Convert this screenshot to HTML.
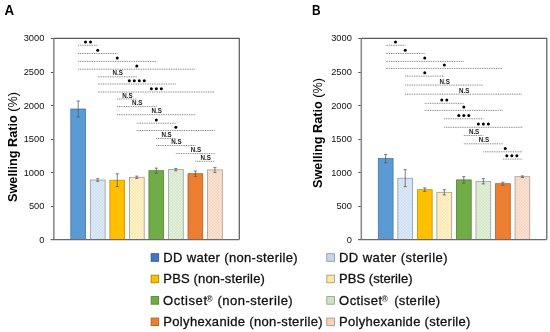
<!DOCTYPE html>
<html><head><meta charset="utf-8"><style>
html,body{margin:0;padding:0;background:#fff;}
body{width:550px;height:332px;overflow:hidden;}
svg{display:block;font-family:"Liberation Sans",sans-serif;will-change:transform;}
.pl{font-size:14.6px;font-weight:bold;fill:#000;}
.yt{font-size:12.7px;font-weight:bold;fill:#000;}
.tk{font-size:9.3px;fill:#111;}
.ax{stroke:#555;stroke-width:1;}
.lax{stroke:#8c8c8c;stroke-width:1.6;}
.bax{stroke:#6a6a6a;stroke-width:1.2;}
.box{fill:none;stroke:#5a5a5a;stroke-width:1.2;}
.eb{fill:none;stroke:#555;stroke-width:0.75;}
.sg{stroke:#6a6a6a;stroke-width:0.9;stroke-dasharray:0.9 0.85;}
.ns{font-size:7.1px;font-weight:bold;fill:#1a1a1a;}
.lg{font-size:13px;fill:#111;stroke:#111;stroke-width:0.3px;}
.reg{font-size:8.6px;font-weight:bold;fill:#333;}
</style></head><body>
<svg width="550" height="332" viewBox="0 0 550 332">
<defs>
<pattern id="hb" width="3" height="3" patternUnits="userSpaceOnUse"><rect width="3" height="3" fill="#DCE9F6"/><path d="M0 0L3 3M3 0L0 3" stroke="#C6D9EF" stroke-width="0.5"/></pattern>
<pattern id="hy" width="3" height="3" patternUnits="userSpaceOnUse"><rect width="3" height="3" fill="#FFF1C8"/><path d="M0 0L3 3M3 0L0 3" stroke="#FAE3A8" stroke-width="0.5"/></pattern>
<pattern id="hg" width="3" height="3" patternUnits="userSpaceOnUse"><rect width="3" height="3" fill="#E2EFDA"/><path d="M0 0L3 3M3 0L0 3" stroke="#CDE2BF" stroke-width="0.5"/></pattern>
<pattern id="ho" width="3" height="3" patternUnits="userSpaceOnUse"><rect width="3" height="3" fill="#FCE2D2"/><path d="M0 0L3 3M3 0L0 3" stroke="#F7CEB4" stroke-width="0.5"/></pattern>
</defs>
<text x="4.4" y="15.1" class="pl" textLength="9.6" lengthAdjust="spacingAndGlyphs">A</text>
<text x="0" y="0" class="yt" transform="translate(17.4,147.0) rotate(-90)" text-anchor="middle">Swelling Ratio <tspan font-weight="normal">(%)</tspan></text>
<text x="44.4" y="242.6" class="tk" text-anchor="end">0</text>
<line x1="50.8" y1="239.5" x2="54.0" y2="239.5" class="ax"/>
<text x="44.4" y="209.1" class="tk" text-anchor="end">500</text>
<line x1="50.8" y1="206.5" x2="54.0" y2="206.5" class="ax"/>
<text x="44.4" y="175.5" class="tk" text-anchor="end">1000</text>
<line x1="50.8" y1="172.5" x2="54.0" y2="172.5" class="ax"/>
<text x="44.4" y="142.0" class="tk" text-anchor="end">1500</text>
<line x1="50.8" y1="139.5" x2="54.0" y2="139.5" class="ax"/>
<text x="44.4" y="108.5" class="tk" text-anchor="end">2000</text>
<line x1="50.8" y1="105.5" x2="54.0" y2="105.5" class="ax"/>
<text x="44.4" y="74.9" class="tk" text-anchor="end">2500</text>
<line x1="50.8" y1="72.5" x2="54.0" y2="72.5" class="ax"/>
<text x="44.4" y="41.4" class="tk" text-anchor="end">3000</text>
<line x1="50.8" y1="38.5" x2="54.0" y2="38.5" class="ax"/>
<rect x="70.80" y="109.00" width="14.80" height="130.60" fill="#5B9BD5" stroke="#41719C" stroke-width="0.75"/>
<rect x="90.33" y="180.00" width="14.80" height="59.60" fill="url(#hb)" stroke="#8E969E" stroke-width="0.75"/>
<rect x="109.86" y="180.20" width="14.80" height="59.40" fill="#FFC000" stroke="#BC8C00" stroke-width="0.75"/>
<rect x="129.39" y="177.30" width="14.80" height="62.30" fill="url(#hy)" stroke="#9A968C" stroke-width="0.75"/>
<rect x="148.92" y="170.70" width="14.80" height="68.90" fill="#70AD47" stroke="#507E32" stroke-width="0.75"/>
<rect x="168.45" y="169.60" width="14.80" height="70.00" fill="url(#hg)" stroke="#959A92" stroke-width="0.75"/>
<rect x="187.98" y="173.70" width="14.80" height="65.90" fill="#ED7D31" stroke="#AE5A21" stroke-width="0.75"/>
<rect x="207.51" y="169.90" width="14.80" height="69.70" fill="url(#ho)" stroke="#A09890" stroke-width="0.75"/>
<path d="M78.20 101.00V117.00M76.60 101.00H79.80M76.60 117.00H79.80" class="eb"/>
<path d="M97.73 178.70V181.30M96.13 178.70H99.33M96.13 181.30H99.33" class="eb"/>
<path d="M117.26 173.80V186.60M115.66 173.80H118.86M115.66 186.60H118.86" class="eb"/>
<path d="M136.79 176.10V178.50M135.19 176.10H138.39M135.19 178.50H138.39" class="eb"/>
<path d="M156.32 168.10V173.30M154.72 168.10H157.92M154.72 173.30H157.92" class="eb"/>
<path d="M175.85 168.40V170.80M174.25 168.40H177.45M174.25 170.80H177.45" class="eb"/>
<path d="M195.38 171.00V176.40M193.78 171.00H196.98M193.78 176.40H196.98" class="eb"/>
<path d="M214.91 167.40V172.40M213.31 167.40H216.51M213.31 172.40H216.51" class="eb"/>
<path d="M54.0 38.4H239.3V239.6" class="box"/>
<line x1="53.8" y1="38.4" x2="53.8" y2="239.6" class="lax"/>
<line x1="50.8" y1="239.6" x2="239.3" y2="239.6" class="bax"/>
<line x1="78.20" y1="45.30" x2="97.73" y2="45.30" class="sg"/>
<circle cx="85.47" cy="42.00" r="1.5"/>
<circle cx="90.47" cy="42.00" r="1.5"/>
<line x1="78.20" y1="53.50" x2="117.26" y2="53.50" class="sg"/>
<circle cx="97.73" cy="50.20" r="1.5"/>
<line x1="78.20" y1="61.40" x2="156.32" y2="61.40" class="sg"/>
<circle cx="117.26" cy="58.10" r="1.5"/>
<line x1="78.20" y1="69.20" x2="195.38" y2="69.20" class="sg"/>
<circle cx="136.79" cy="65.90" r="1.5"/>
<line x1="97.73" y1="76.80" x2="136.79" y2="76.80" class="sg"/>
<text x="117.76" y="75.30" class="ns" text-anchor="middle" textLength="10.4" lengthAdjust="spacingAndGlyphs">N.S</text>
<line x1="97.73" y1="84.00" x2="175.85" y2="84.00" class="sg"/>
<circle cx="129.29" cy="80.70" r="1.5"/>
<circle cx="134.29" cy="80.70" r="1.5"/>
<circle cx="139.29" cy="80.70" r="1.5"/>
<circle cx="144.29" cy="80.70" r="1.5"/>
<line x1="97.73" y1="92.00" x2="214.91" y2="92.00" class="sg"/>
<circle cx="151.32" cy="88.70" r="1.5"/>
<circle cx="156.32" cy="88.70" r="1.5"/>
<circle cx="161.32" cy="88.70" r="1.5"/>
<line x1="117.26" y1="99.00" x2="136.79" y2="99.00" class="sg"/>
<text x="127.53" y="97.50" class="ns" text-anchor="middle" textLength="10.4" lengthAdjust="spacingAndGlyphs">N.S</text>
<line x1="117.26" y1="106.60" x2="156.32" y2="106.60" class="sg"/>
<text x="137.29" y="105.10" class="ns" text-anchor="middle" textLength="10.4" lengthAdjust="spacingAndGlyphs">N.S</text>
<line x1="117.26" y1="114.70" x2="195.38" y2="114.70" class="sg"/>
<text x="156.82" y="113.20" class="ns" text-anchor="middle" textLength="10.4" lengthAdjust="spacingAndGlyphs">N.S</text>
<line x1="136.79" y1="123.20" x2="175.85" y2="123.20" class="sg"/>
<circle cx="156.32" cy="119.90" r="1.5"/>
<line x1="136.79" y1="130.50" x2="214.91" y2="130.50" class="sg"/>
<circle cx="175.85" cy="127.20" r="1.5"/>
<line x1="156.32" y1="138.50" x2="175.85" y2="138.50" class="sg"/>
<text x="166.59" y="137.00" class="ns" text-anchor="middle" textLength="10.4" lengthAdjust="spacingAndGlyphs">N.S</text>
<line x1="156.32" y1="145.50" x2="195.38" y2="145.50" class="sg"/>
<text x="176.35" y="144.00" class="ns" text-anchor="middle" textLength="10.4" lengthAdjust="spacingAndGlyphs">N.S</text>
<line x1="175.85" y1="153.60" x2="214.91" y2="153.60" class="sg"/>
<text x="195.88" y="152.10" class="ns" text-anchor="middle" textLength="10.4" lengthAdjust="spacingAndGlyphs">N.S</text>
<line x1="195.38" y1="161.30" x2="214.91" y2="161.30" class="sg"/>
<text x="205.65" y="159.80" class="ns" text-anchor="middle" textLength="10.4" lengthAdjust="spacingAndGlyphs">N.S</text>
<text x="311.9" y="15.1" class="pl" textLength="8.6" lengthAdjust="spacingAndGlyphs">B</text>
<text x="0" y="0" class="yt" transform="translate(322.3,133.0) rotate(-90)" text-anchor="middle">Swelling Ratio <tspan font-weight="normal">(%)</tspan></text>
<text x="351.9" y="242.6" class="tk" text-anchor="end">0</text>
<line x1="358.3" y1="239.5" x2="361.5" y2="239.5" class="ax"/>
<text x="351.9" y="209.1" class="tk" text-anchor="end">500</text>
<line x1="358.3" y1="206.5" x2="361.5" y2="206.5" class="ax"/>
<text x="351.9" y="175.5" class="tk" text-anchor="end">1000</text>
<line x1="358.3" y1="172.5" x2="361.5" y2="172.5" class="ax"/>
<text x="351.9" y="142.0" class="tk" text-anchor="end">1500</text>
<line x1="358.3" y1="139.5" x2="361.5" y2="139.5" class="ax"/>
<text x="351.9" y="108.5" class="tk" text-anchor="end">2000</text>
<line x1="358.3" y1="105.5" x2="361.5" y2="105.5" class="ax"/>
<text x="351.9" y="74.9" class="tk" text-anchor="end">2500</text>
<line x1="358.3" y1="72.5" x2="361.5" y2="72.5" class="ax"/>
<text x="351.9" y="41.4" class="tk" text-anchor="end">3000</text>
<line x1="358.3" y1="38.5" x2="361.5" y2="38.5" class="ax"/>
<rect x="378.30" y="158.60" width="14.80" height="81.00" fill="#5B9BD5" stroke="#41719C" stroke-width="0.75"/>
<rect x="397.83" y="178.20" width="14.80" height="61.40" fill="url(#hb)" stroke="#8E969E" stroke-width="0.75"/>
<rect x="417.36" y="189.70" width="14.80" height="49.90" fill="#FFC000" stroke="#BC8C00" stroke-width="0.75"/>
<rect x="436.89" y="192.30" width="14.80" height="47.30" fill="url(#hy)" stroke="#9A968C" stroke-width="0.75"/>
<rect x="456.42" y="179.90" width="14.80" height="59.70" fill="#70AD47" stroke="#507E32" stroke-width="0.75"/>
<rect x="475.95" y="181.30" width="14.80" height="58.30" fill="url(#hg)" stroke="#959A92" stroke-width="0.75"/>
<rect x="495.48" y="183.70" width="14.80" height="55.90" fill="#ED7D31" stroke="#AE5A21" stroke-width="0.75"/>
<rect x="515.01" y="176.70" width="14.80" height="62.90" fill="url(#ho)" stroke="#A09890" stroke-width="0.75"/>
<path d="M385.70 154.50V162.70M384.10 154.50H387.30M384.10 162.70H387.30" class="eb"/>
<path d="M405.23 169.70V186.70M403.63 169.70H406.83M403.63 186.70H406.83" class="eb"/>
<path d="M424.76 187.90V191.50M423.16 187.90H426.36M423.16 191.50H426.36" class="eb"/>
<path d="M444.29 189.70V194.90M442.69 189.70H445.89M442.69 194.90H445.89" class="eb"/>
<path d="M463.82 176.60V183.20M462.22 176.60H465.42M462.22 183.20H465.42" class="eb"/>
<path d="M483.35 178.70V183.90M481.75 178.70H484.95M481.75 183.90H484.95" class="eb"/>
<path d="M502.88 182.20V185.20M501.28 182.20H504.48M501.28 185.20H504.48" class="eb"/>
<path d="M522.41 175.90V177.50M520.81 175.90H524.01M520.81 177.50H524.01" class="eb"/>
<path d="M361.5 38.4H546.8V239.6" class="box"/>
<line x1="361.3" y1="38.4" x2="361.3" y2="239.6" class="lax"/>
<line x1="358.3" y1="239.6" x2="546.8" y2="239.6" class="bax"/>
<line x1="385.70" y1="45.30" x2="405.23" y2="45.30" class="sg"/>
<circle cx="395.47" cy="42.00" r="1.5"/>
<line x1="385.70" y1="53.50" x2="424.76" y2="53.50" class="sg"/>
<circle cx="405.23" cy="50.20" r="1.5"/>
<line x1="385.70" y1="61.40" x2="463.82" y2="61.40" class="sg"/>
<circle cx="424.76" cy="58.10" r="1.5"/>
<line x1="385.70" y1="68.40" x2="502.88" y2="68.40" class="sg"/>
<circle cx="444.29" cy="65.10" r="1.5"/>
<line x1="405.23" y1="76.10" x2="444.29" y2="76.10" class="sg"/>
<circle cx="424.76" cy="72.80" r="1.5"/>
<line x1="405.23" y1="85.10" x2="483.35" y2="85.10" class="sg"/>
<text x="444.79" y="83.60" class="ns" text-anchor="middle" textLength="10.4" lengthAdjust="spacingAndGlyphs">N.S</text>
<line x1="405.23" y1="94.20" x2="522.41" y2="94.20" class="sg"/>
<text x="464.32" y="92.70" class="ns" text-anchor="middle" textLength="10.4" lengthAdjust="spacingAndGlyphs">N.S</text>
<line x1="424.76" y1="103.30" x2="463.82" y2="103.30" class="sg"/>
<circle cx="441.79" cy="100.00" r="1.5"/>
<circle cx="446.79" cy="100.00" r="1.5"/>
<line x1="424.76" y1="110.40" x2="502.88" y2="110.40" class="sg"/>
<circle cx="463.82" cy="107.10" r="1.5"/>
<line x1="444.29" y1="118.80" x2="483.35" y2="118.80" class="sg"/>
<circle cx="458.82" cy="115.50" r="1.5"/>
<circle cx="463.82" cy="115.50" r="1.5"/>
<circle cx="468.82" cy="115.50" r="1.5"/>
<line x1="444.29" y1="127.30" x2="522.41" y2="127.30" class="sg"/>
<circle cx="478.35" cy="124.00" r="1.5"/>
<circle cx="483.35" cy="124.00" r="1.5"/>
<circle cx="488.35" cy="124.00" r="1.5"/>
<line x1="463.82" y1="135.50" x2="483.35" y2="135.50" class="sg"/>
<text x="474.09" y="134.00" class="ns" text-anchor="middle" textLength="10.4" lengthAdjust="spacingAndGlyphs">N.S</text>
<line x1="463.82" y1="143.80" x2="502.88" y2="143.80" class="sg"/>
<text x="483.85" y="142.30" class="ns" text-anchor="middle" textLength="10.4" lengthAdjust="spacingAndGlyphs">N.S</text>
<line x1="483.35" y1="151.80" x2="522.41" y2="151.80" class="sg"/>
<circle cx="505.28" cy="148.50" r="1.5"/>
<line x1="502.88" y1="159.10" x2="522.41" y2="159.10" class="sg"/>
<circle cx="506.84" cy="155.80" r="1.5"/>
<circle cx="511.84" cy="155.80" r="1.5"/>
<circle cx="516.85" cy="155.80" r="1.5"/>
<rect x="151.10" y="253.70" width="7.6" height="7.6" fill="#4472C4" stroke="#2F528F" stroke-width="0.8"/>
<text x="163.30" y="261.70" class="lg" textLength="134.4" lengthAdjust="spacing">DD water (non-sterile)</text>
<rect x="326.80" y="253.70" width="7.6" height="7.6" fill="#C6D5EF" stroke="#8A909A" stroke-width="0.8"/>
<text x="339.00" y="261.70" class="lg" textLength="108.5" lengthAdjust="spacing">DD water (sterile)</text>
<rect x="151.10" y="275.15" width="7.6" height="7.6" fill="#FFC000" stroke="#A07800" stroke-width="0.8"/>
<text x="163.30" y="283.15" class="lg" textLength="101.6" lengthAdjust="spacing">PBS (non-sterile)</text>
<rect x="326.80" y="275.15" width="7.6" height="7.6" fill="#FEE79E" stroke="#9A9482" stroke-width="0.8"/>
<text x="339.00" y="283.15" class="lg" textLength="73.6" lengthAdjust="spacing">PBS (sterile)</text>
<rect x="151.10" y="296.60" width="7.6" height="7.6" fill="#70AD47" stroke="#4E7A31" stroke-width="0.8"/>
<text x="163.00" y="304.60" class="lg" textLength="44.0" lengthAdjust="spacing">Octiset</text>
<text x="206.20" y="301.60" class="reg">®</text>
<text x="217.40" y="304.60" class="lg" textLength="75.3" lengthAdjust="spacing">(non-sterile)</text>
<rect x="326.80" y="296.60" width="7.6" height="7.6" fill="#CFE3C3" stroke="#8E9889" stroke-width="0.8"/>
<text x="339.10" y="304.60" class="lg" textLength="42.9" lengthAdjust="spacing">Octiset</text>
<text x="381.60" y="301.60" class="reg">®</text>
<text x="394.20" y="304.60" class="lg" textLength="45.9" lengthAdjust="spacing">(sterile)</text>
<rect x="151.10" y="318.05" width="7.6" height="7.6" fill="#ED7D31" stroke="#A85620" stroke-width="0.8"/>
<text x="163.30" y="326.05" class="lg" textLength="159.4" lengthAdjust="spacing">Polyhexanide (non-sterile)</text>
<rect x="326.80" y="318.05" width="7.6" height="7.6" fill="#F9CFB8" stroke="#9E948C" stroke-width="0.8"/>
<text x="339.00" y="326.05" class="lg" textLength="131.4" lengthAdjust="spacing">Polyhexanide (sterile)</text>
</svg>
</body></html>
